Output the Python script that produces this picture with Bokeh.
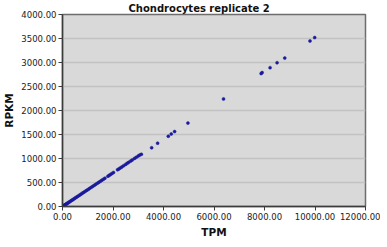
from bokeh.plotting import figure
from bokeh.models import FixedTicker, Range1d
from bokeh.embed import file_html
from bokeh.resources import INLINE

title_text = "Chondrocytes replicate 2"
x_label = "TPM"
y_label = "RPKM"

x_ticks = [0, 2000, 4000, 6000, 8000, 10000, 12000]
x_tick_labels = ["0.00", "2000.00", "4000.00", "6000.00", "8000.00", "10000.00", "12000.00"]
y_ticks = [0, 500, 1000, 1500, 2000, 2500, 3000, 3500, 4000]
y_tick_labels = ["0.00", "500.00", "1000.00", "1500.00", "2000.00", "2500.00",
                 "3000.00", "3500.00", "4000.00"]

# dense low-expression genes
tpm_low = [0, 10, 25, 40, 60, 85, 110, 140, 170, 200, 235, 270, 310, 350, 390, 430,
           475, 520, 565, 610, 660, 710, 760, 810, 860, 915, 970, 1025, 1080, 1140,
           1200, 1260, 1320, 1380, 1440, 1500, 1560, 1620, 1680, 1800, 1850, 1900,
           1960, 2020, 2180, 2230, 2290, 2350, 2420, 2500, 2560, 2620, 2700, 2760,
           2850, 2920, 3000, 3060, 3123]
rpkm_low = [0, 3.5, 8.8, 14.0, 21.1, 29.8, 38.6, 49.1, 59.7, 70.3, 82.5, 94.6, 108.9,
            122.8, 137.0, 150.9, 166.8, 182.6, 198.3, 214.2, 231.7, 249.3, 266.8,
            284.3, 301.9, 321.2, 340.5, 359.8, 379.1, 400.1, 421.2, 442.3, 463.3,
            484.4, 505.4, 526.5, 547.6, 568.6, 589.7, 631.8, 649.4, 666.9, 688.0,
            709.0, 765.2, 782.7, 803.8, 824.9, 849.4, 877.5, 898.6, 919.6, 947.7,
            968.8, 1000.4, 1025.0, 1053.0, 1074.1, 1087.0]
# sparse high-expression genes
tpm_high = [3530, 3767, 4190, 4308, 4440, 4967, 6377, 7866, 7905, 8221, 8498, 8802, 9802, 9988]
rpkm_high = [1223, 1320, 1464, 1512, 1561, 1738, 2241, 2769, 2790, 2893, 2996, 3093, 3449, 3519]

tpm = tpm_low + tpm_high
rpkm = rpkm_low + rpkm_high

p = figure(frame_width=303, frame_height=192, output_backend="svg", toolbar_location=None,
           x_range=Range1d(0, 12000), y_range=Range1d(0, 4000),
           min_border_left=53, min_border_right=15, min_border_top=2, min_border_bottom=2,
           title=title_text)

p.title.align = "left"
p.title.text_font = "DejaVu Sans"
p.title.text_font_style = "bold"
p.title.text_font_size = "10px"
p.title.text_color = "#111111"
p.title.standoff = 1
p.title.offset = 66

p.background_fill_color = "#d9d9d9"
p.border_fill_color = "white"
p.outline_line_color = "#6e6e6e"
p.outline_line_width = 1.5

p.scatter(tpm, rpkm, size=3, color="#1a1a9c", line_color="#1a1a9c", line_width=0.5)

for ax, ticks, labels in ((p.xaxis[0], x_ticks, x_tick_labels), (p.yaxis[0], y_ticks, y_tick_labels)):
    ax.ticker = FixedTicker(ticks=ticks)
    ax.major_label_overrides = {t: l for t, l in zip(ticks, labels)}
    ax.minor_tick_line_color = None
    ax.major_tick_out = 4
    ax.major_tick_in = 0
    ax.axis_line_color = "#3c3c3c"
    ax.axis_line_width = 1.5
    ax.major_tick_line_color = "#3c3c3c"
    ax.major_label_text_font = "DejaVu Sans"
    ax.major_label_text_font_size = "8.5px"
    ax.major_label_text_color = "#222222"
    ax.axis_label_text_font = "DejaVu Sans"
    ax.axis_label_text_font_style = "bold"
    ax.axis_label_text_font_size = "10.5px"
    ax.axis_label_text_color = "#111111"
    ax.major_label_standoff = 2
    ax.axis_label_standoff = 3

p.xaxis.axis_label = x_label
p.yaxis.axis_label = y_label

p.xgrid.grid_line_color = None
p.ygrid.grid_line_color = "#c2c2c2"
p.ygrid.grid_line_width = 1.5

open("out.html", "w").write(file_html(p, INLINE))
